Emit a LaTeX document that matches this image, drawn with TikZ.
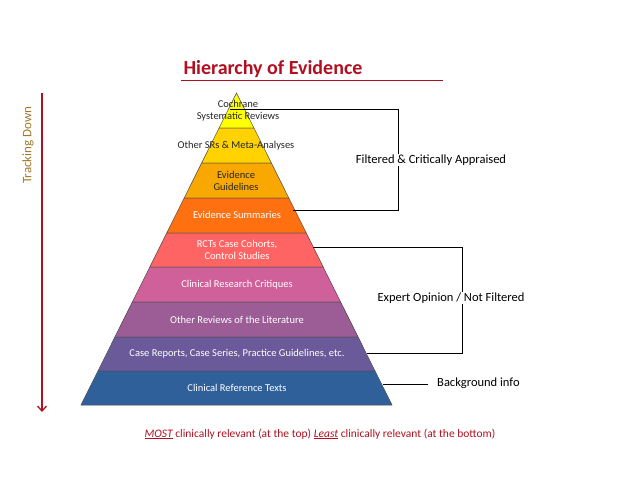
\documentclass[tikz,border=0pt]{standalone}
\usepackage{fontspec}
\setmainfont{Carlito}
\usetikzlibrary{arrows.meta}
\definecolor{dred}{HTML}{B01020}
\definecolor{gold}{HTML}{A0782A}
\definecolor{c1}{HTML}{FFFF00}
\definecolor{c2}{HTML}{FFD200}
\definecolor{c3}{HTML}{F8A800}
\definecolor{c4}{HTML}{FF7010}
\definecolor{c5}{HTML}{FF6464}
\definecolor{c6}{HTML}{D0609A}
\definecolor{c7}{HTML}{9C5C96}
\definecolor{c8}{HTML}{6A5A9A}
\definecolor{c9}{HTML}{30609A}
\tikzset{x=1pt,y=-1pt,
 lay/.style={draw=black!70,line width=0.5pt},
 dk/.style={font=\fontsize{10.5}{12}\selectfont,align=center,text=black!85},
 lt/.style={font=\fontsize{10.5}{12}\selectfont,align=center,text=white},
 lab/.style={font=\fontsize{12.5}{14}\selectfont,fill=white,inner sep=1pt},
 br/.style={line width=0.6pt}}
\begin{document}
\begin{tikzpicture}
\useasboundingbox (0,0) rectangle (638,479);
\foreach \ya/\yb/\c in {93/128/c1,128/163/c2,163/198/c3,198/233/c4,233/267/c5,267/302/c6,302/337/c7,337/371/c8,371/405/c9}{
 \pgfmathsetmacro\ha{0.4984*(\ya-93)}
 \pgfmathsetmacro\hb{0.4984*(\yb-93)}
 \filldraw[lay,fill=\c] (236.5-\ha,\ya) -- (236.5+\ha,\ya) -- (236.5+\hb,\yb) -- (236.5-\hb,\yb) -- cycle;
}
% brackets
\coordinate (f1) at (230,109); \coordinate (f2) at (398,109);
\coordinate (f3) at (398,210); \coordinate (f4) at (293,210);
\draw[br] (f1) -- (f2) -- (f3) -- (f4);
\coordinate (e1) at (313,247); \coordinate (e2) at (462,247);
\coordinate (e3) at (462,353); \coordinate (e4) at (367,353);
\draw[br] (e1) -- (e2) -- (e3) -- (e4);
\coordinate (b1) at (383,384); \coordinate (b2) at (428,384);
\draw[br] (b1) -- (b2);
\node[lab] (filt) at (431,160) {Filtered \& Critically Appraised};
\node[lab] (exp) at (451,298) {Expert Opinion / Not Filtered};
\node[lab,anchor=west] (bg) at (436,383) {Background info};
% layer texts
\node[dk] (t1) at (238,111) {Cochrane\\Systematic Reviews};
\node[dk] (t2) at (236,146) {Other SRs \& Meta-Analyses};
\node[dk] (t3) at (236,181) {Evidence\\Guidelines};
\node[lt] (t4) at (237,215) {Evidence Summaries};
\node[lt] (t5) at (237,250) {RCTs Case Cohorts,\\Control Studies};
\node[lt] (t6) at (237,285) {Clinical Research Critiques};
\node[lt] (t7) at (237,320) {Other Reviews of the Literature};
\node[lt] (t8) at (237,354) {Case Reports, Case Series, Practice Guidelines, etc.};
\node[lt] (t9) at (237,388) {Clinical Reference Texts};
% title
\node[font=\fontsize{20}{24}\selectfont\bfseries,text=dred,anchor=west] (title) at (180,69) {Hierarchy of Evidence};
\draw[dred,line width=1pt] (181,80) -- (443,80);
% tracking down
\node[rotate=90,font=\fontsize{13}{15}\selectfont,text=gold] (track) at (28,145) {Tracking Down};
\coordinate (a1) at (42,93); \coordinate (a2) at (42,412);
\draw[dred,line width=1.3pt,-{Straight Barb[length=5pt,width=9pt]}] (a1) -- (a2);
% footer
\node[font=\fontsize{11.5}{14}\selectfont,text=dred] (foot) at (320,434) {\underline{\itshape MOST} clinically relevant (at the top) \underline{\itshape Least} clinically relevant (at the bottom)};
\end{tikzpicture}
\end{document}
